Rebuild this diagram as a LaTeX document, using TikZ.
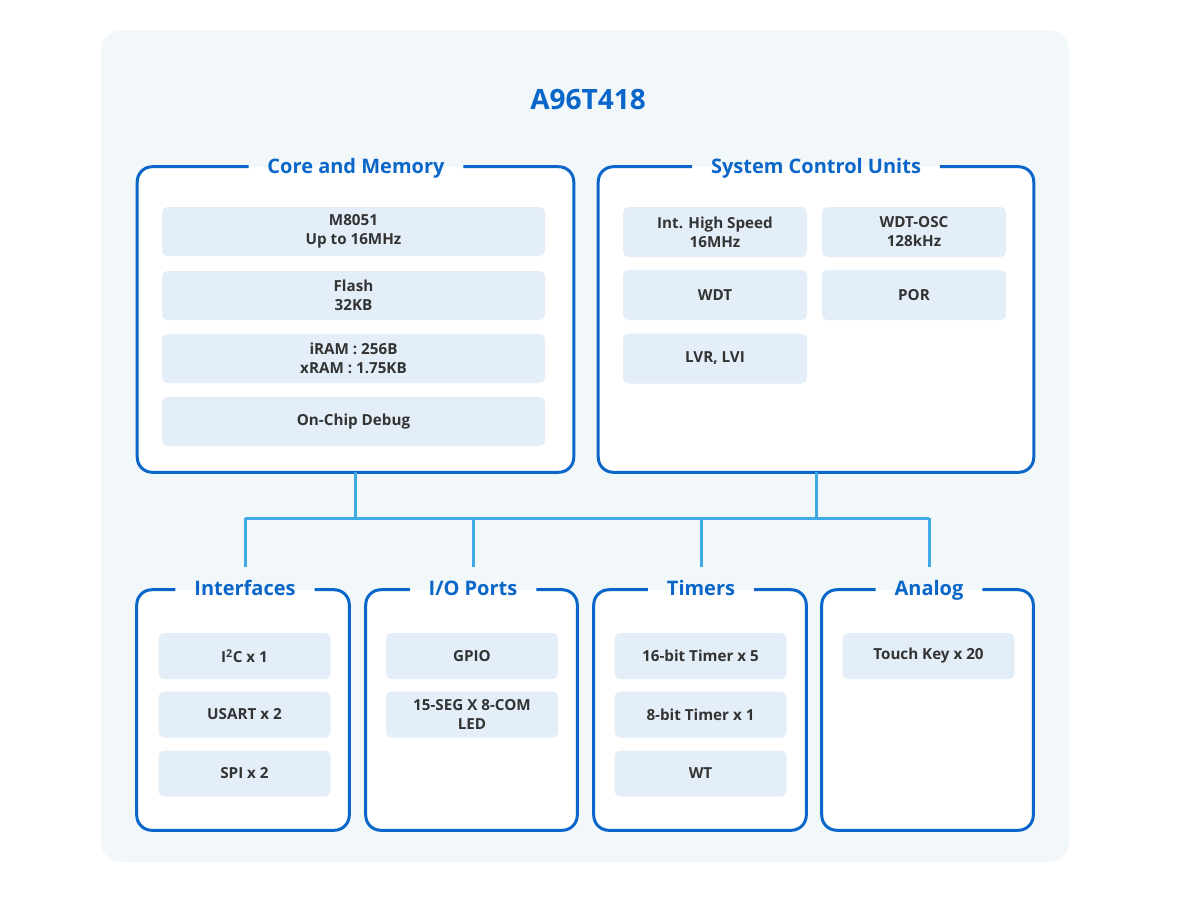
\documentclass[tikz,border=0pt]{standalone}
\usepackage{fontspec}
\setmainfont{Open Sans}
\definecolor{pagebg}{HTML}{F2F7FA}
\definecolor{blue}{HTML}{0A66C8}
\definecolor{conn}{HTML}{3DAAE3}
\definecolor{itemfill}{HTML}{E4EEF8}
\definecolor{txt}{HTML}{333333}
\newcommand\pxu{0.75pt}
\tikzset{
  panel/.style={fill=white, rounded corners=11.25pt, inner sep=0pt},
  border/.style={draw=blue, line width=2.25pt, rounded corners=11.25pt},
  ptitle/.style={text=blue, font=\bfseries\fontsize{15}{18}\selectfont, inner xsep=14pt,
    text height=11pt, text depth=3.5pt, minimum height=34.5pt},
  item/.style={fill=itemfill, rounded corners=4pt, text=txt, align=center,
    font=\bfseries\fontsize{11.4}{14.25}\selectfont, inner sep=0pt},
  connector/.style={draw=conn, line width=2.25pt},
}
\begin{document}
\begin{tikzpicture}[x=0.75pt, y=-0.75pt]
\useasboundingbox (0,0) rectangle (1191,915);
% background
\node[fill=pagebg, rounded corners=15pt, minimum width=968*\pxu, minimum height=832*\pxu, inner sep=0pt] (bg) at (585,446) {};
\node[text=blue, font=\bfseries\fontsize{21}{24}\selectfont] (title) at (588,100) {A96T418};

% panels
\node[panel, minimum width=436*\pxu, minimum height=305*\pxu] (core) at (355.5,319.5) {};
\node[panel, minimum width=435*\pxu, minimum height=305*\pxu] (scu) at (816,319.5) {};
\node[panel, minimum width=212*\pxu, minimum height=240*\pxu] (ifc) at (243,710) {};
\node[panel, minimum width=211*\pxu, minimum height=240*\pxu] (io) at (471.5,710) {};
\node[panel, minimum width=212*\pxu, minimum height=240*\pxu] (tim) at (700,710) {};
\node[panel, minimum width=211*\pxu, minimum height=240*\pxu] (ana) at (927.5,710) {};

% titles
\node[ptitle] (coreT) at (356,168) {Core and Memory};
\node[ptitle] (scuT) at (816,168) {System Control Units};
\node[ptitle] (ifcT) at (245,590) {Interfaces};
\node[ptitle] (ioT) at (473,590) {I/O Ports};
\node[ptitle] (timT) at (701,590) {Timers};
\node[ptitle] (anaT) at (929,590) {Analog};

% borders with gap for title
\foreach \b in {core,scu,ifc,io,tim,ana}{
  \draw[border] (\b.north -| \b T.east) -| (\b.south east) -| (\b.north west) -- (\b.north -| \b T.west);
}

% core items
\node[item, minimum width=383*\pxu, minimum height=49*\pxu] (m8051) at (353.5,231.5) {M8051\\Up to 16MHz};
\node[item, minimum width=383*\pxu, minimum height=49*\pxu] (flash) at (353.5,295.5) {Flash\\32KB};
\node[item, minimum width=383*\pxu, minimum height=49*\pxu] (ram) at (353.5,358.5) {iRAM : 256B\\xRAM : 1.75KB};
\node[item, minimum width=383*\pxu, minimum height=49*\pxu] (ocd) at (353.5,421.5) {On-Chip Debug};

% SCU items
\node[item, minimum width=184*\pxu, minimum height=50*\pxu] (ihs) at (715,232) {Int. High Speed\\16MHz};
\node[item, minimum width=184*\pxu, minimum height=50*\pxu] (wdtosc) at (914,232) {WDT-OSC\\128kHz};
\node[item, minimum width=184*\pxu, minimum height=50*\pxu] (wdt) at (715,295) {WDT};
\node[item, minimum width=184*\pxu, minimum height=50*\pxu] (por) at (914,295) {POR};
\node[item, minimum width=184*\pxu, minimum height=50*\pxu] (lvr) at (715,358.5) {LVR, LVI};

% bottom items
\node[item, minimum width=172*\pxu, minimum height=46*\pxu] (i2c) at (244.5,656) {I\textsuperscript{2}C x 1};
\node[item, minimum width=172*\pxu, minimum height=46*\pxu] (usart) at (244.5,714.5) {USART x 2};
\node[item, minimum width=172*\pxu, minimum height=46*\pxu] (spi) at (244.5,773.5) {SPI x 2};

\node[item, minimum width=172*\pxu, minimum height=46*\pxu] (gpio) at (472,656) {GPIO};
\node[item, minimum width=172*\pxu, minimum height=46*\pxu] (seg) at (472,714.5) {15-SEG X 8-COM\\LED};

\node[item, minimum width=172*\pxu, minimum height=46*\pxu] (t16) at (700.5,656) {16-bit Timer x 5};
\node[item, minimum width=172*\pxu, minimum height=46*\pxu] (t8) at (700.5,714.5) {8-bit Timer x 1};
\node[item, minimum width=172*\pxu, minimum height=46*\pxu] (wt) at (700.5,773.5) {WT};

\node[item, minimum width=172*\pxu, minimum height=46*\pxu] (touch) at (928.5,656) {Touch Key x 20};

% connectors
\coordinate (bus) at (585,518);
\draw[connector] (core.south) -- (core.south |- bus);
\draw[connector] (scu.south) -- (scu.south |- bus);
\draw[connector] (ifcT.north |- bus) -- (anaT.north |- bus);
\draw[connector] (ifcT.north |- bus) -- (ifcT.north);
\draw[connector] (ioT.north |- bus) -- (ioT.north);
\draw[connector] (timT.north |- bus) -- (timT.north);
\draw[connector] (anaT.north |- bus) -- (anaT.north);
\end{tikzpicture}
\end{document}
